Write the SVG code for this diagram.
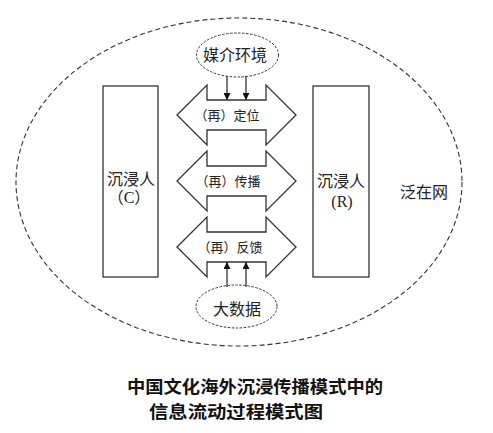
<svg xmlns="http://www.w3.org/2000/svg" width="493" height="433" viewBox="0 0 493 433">
<style>
.box{fill:#fff;stroke:#333;stroke-width:1.3}
.arr{fill:#fff;stroke:#333;stroke-width:1.3}
.big{fill:none;stroke:#333;stroke-width:1.1;stroke-dasharray:5 3}
.small{fill:#fff;stroke:#333;stroke-width:1;stroke-dasharray:2.5 1.5}
.t{font-family:"Liberation Serif","Noto Sans CJK SC",serif;fill:#222;text-anchor:middle;dominant-baseline:central}
.lbl{font-size:16px}
.hx{font-size:13px}
.title{font-family:"Noto Sans CJK SC",sans-serif;font-weight:bold;font-size:17px;fill:#111;dominant-baseline:central}
.con{stroke:#222;stroke-width:1.2;fill:none}
</style>
<defs>
<marker id="ah" viewBox="0 0 8 8" refX="8" refY="4" markerWidth="7" markerHeight="7" markerUnits="userSpaceOnUse" orient="auto">
<path d="M0,0 L8,4 L0,8 Z" fill="#111"/>
</marker>
</defs>
<g id="network">
<ellipse class="big" cx="239" cy="182" rx="223" ry="164"/>
<text class="t lbl" x="424" y="192">泛在网</text>
</g>
<g id="node-c">
<rect class="box" x="103" y="86" width="55" height="191"/>
<text class="t lbl" x="131" y="179">沉浸人</text>
<text class="t lbl" x="129" y="197">（C）</text>
</g>
<g id="node-r">
<rect class="box" x="313" y="86" width="56" height="191"/>
<text class="t lbl" x="341" y="181">沉浸人</text>
<text class="t lbl" x="342" y="201">(R)</text>
</g>
<g id="arrow-position">
<path class="arr" d="M177,115 L207,85 L207,100 L266,100 L266,85 L296,115 L266,145 L266,130 L207,130 L207,145 Z"/>
<text class="t hx" x="227" y="115">（再）定位</text>
</g>
<g id="arrow-spread">
<path class="arr" d="M177,181 L207,151 L207,166 L266,166 L266,151 L296,181 L266,211 L266,196 L207,196 L207,211 Z"/>
<text class="t hx" x="228" y="181">（再）传播</text>
</g>
<g id="arrow-feedback">
<path class="arr" d="M177,247 L207,217 L207,232 L266,232 L266,217 L296,247 L266,277 L266,262 L207,262 L207,277 Z"/>
<text class="t hx" x="230" y="247">（再）反馈</text>
</g>
<g id="media">
<ellipse class="small" cx="237.5" cy="55" rx="41" ry="22"/>
<text class="t lbl" x="235" y="55" font-size="17">媒介环境</text>
</g>
<g id="bigdata">
<ellipse class="small" cx="236.5" cy="306.5" rx="40.5" ry="21.5"/>
<text class="t lbl" x="237" y="309" font-size="17">大数据</text>
</g>
<g id="connectors">
<line class="con" x1="227" y1="76" x2="227" y2="100" marker-end="url(#ah)"/>
<line class="con" x1="246" y1="76" x2="246" y2="100" marker-end="url(#ah)"/>
<line class="con" x1="227" y1="287" x2="227" y2="262" marker-end="url(#ah)"/>
<line class="con" x1="246" y1="287" x2="246" y2="262" marker-end="url(#ah)"/>
</g>
<g id="caption">
<text class="title" x="127" y="385" textLength="256" lengthAdjust="spacingAndGlyphs">中国文化海外沉浸传播模式中的</text>
<text class="title" x="149" y="410" textLength="174" lengthAdjust="spacingAndGlyphs">信息流动过程模式图</text>
</g>
</svg>
